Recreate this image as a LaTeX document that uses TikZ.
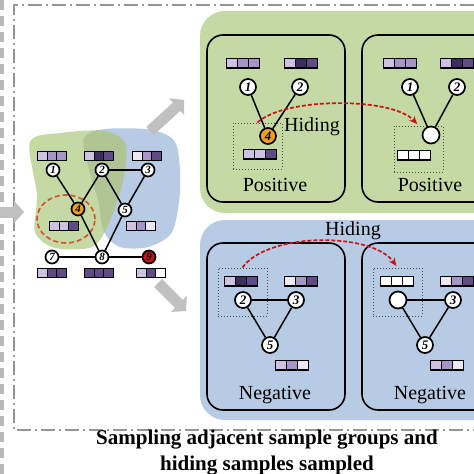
\documentclass[tikz,border=0pt]{standalone}
\usepackage{fontspec}
\setmainfont{Liberation Serif}
\usetikzlibrary{arrows.meta}
\definecolor{pgreen}{RGB}{197,217,165}
\definecolor{pblue}{RGB}{183,203,228}
\definecolor{poverlap}{RGB}{177,197,148}
\definecolor{fa}{RGB}{238,232,244}
\definecolor{fb}{RGB}{206,194,226}
\definecolor{fc}{RGB}{166,149,198}
\definecolor{fd}{RGB}{96,75,135}
\definecolor{fe}{RGB}{62,46,94}
\definecolor{hideorange}{RGB}{240,160,30}
\definecolor{hidered}{RGB}{192,22,22}
\definecolor{arrowred}{RGB}{200,20,20}
\definecolor{ringred}{RGB}{212,80,40}
\definecolor{framegray}{RGB}{150,150,150}
\definecolor{arrowgray}{RGB}{192,192,192}
% a feature bar of three squares: centre, square size, three fills
\newcommand\featbar[5]{%
  \begin{scope}[shift={(#1)}]
    \foreach \c [count=\i] in {#3,#4,#5}
      \draw[fill=\c,line width=1.1pt] ({(\i-2.5)*#2},{-0.45*#2}) rectangle ++(#2,{0.9*#2});
  \end{scope}}
\begin{document}
\begin{tikzpicture}[x=1pt,y=-1pt,
  gnode/.style={circle,draw,line width=1.7pt,fill=white,inner sep=0pt,minimum size=13pt,font=\fontsize{11}{11}\selectfont\bfseries\itshape},
  bignode/.style={gnode,minimum size=16pt,font=\fontsize{13}{13}\selectfont\bfseries\itshape},
  hidnode/.style={gnode,minimum size=17pt},
  link/.style={line width=1.5pt},
  card/.style={draw,line width=1.6pt,rounded corners=16pt},
  hidebox/.style={draw=black!70,dotted,line width=1pt,inner sep=0pt},
  hidearrow/.style={arrowred,dash pattern=on 4pt off 2pt,line width=1.7pt,shorten >=2pt,-{Stealth[length=8pt,width=7pt]}},
  bigarrow/.style={arrowgray,line width=11pt,-{Triangle[length=10pt,width=22pt]}},
  tagtext/.style={font=\fontsize{20}{20}\selectfont,inner sep=0pt}]
 \clip (0,0) rectangle (474,474);
 \fill[white] (0,0) rectangle (474,474);
 % frames
 \draw[gray!55,line width=4pt,dash pattern=on 10pt off 6pt] (2,0) -- (2,474);
 \draw[framegray,line width=1.3pt,dash pattern=on 14pt off 4pt on 2pt off 4pt] (474,5) -- (14,5) -- (14,430) -- (474,430);
 % panels
 \fill[pgreen,rounded corners=25pt] (200,11) rectangle (500,213);
 \fill[pblue,rounded corners=25pt] (200,220) rectangle (500,420);
 \draw[card] (207,35) rectangle (345,202);
 \draw[card] (362,35) rectangle (500,202);
 \draw[card] (207,243) rectangle (345,410);
 \draw[card] (362,243) rectangle (500,410);
 % sampled groups
 \fill[pgreen] plot[smooth cycle] coordinates {(30,142) (60,133) (105,131) (126,145) (122,185) (108,225) (92,247) (55,248) (35,232) (37,195)};
 \fill[pblue] plot[smooth cycle] coordinates {(84,138) (105,129) (152,130) (176,144) (180,190) (172,232) (148,247) (120,247) (104,232) (98,200) (88,165)};
 \begin{scope}
  \clip plot[smooth cycle] coordinates {(30,142) (60,133) (105,131) (126,145) (122,185) (108,225) (92,247) (55,248) (35,232) (37,195)};
  \fill[poverlap] plot[smooth cycle] coordinates {(84,138) (105,129) (152,130) (176,144) (180,190) (172,232) (148,247) (120,247) (104,232) (98,200) (88,165)};
 \end{scope}
 \draw[ringred,dash pattern=on 5pt off 3pt,line width=1.6pt] (66,219) ellipse [x radius=29pt,y radius=24pt];
 % big arrows
 \coordinate (ina) at (0,212);
 \coordinate (inb) at (24,212);
 \coordinate (upa) at (150,131);
 \coordinate (upb) at (184,100);
 \coordinate (dna) at (158,283);
 \coordinate (dnb) at (186,311);
 \draw[bigarrow] (ina) -- (inb);
 \draw[bigarrow] (upa) -- (upb);
 \draw[bigarrow] (dna) -- (dnb);
 % graph
 \node[gnode] (n1) at (53,170) {1};
 \node[gnode] (n2) at (102,170) {2};
 \node[gnode] (n3) at (148,170) {3};
 \node[gnode,fill=hideorange] (n4) at (78,209) {4};
 \node[gnode] (n5) at (125,210) {5};
 \node[gnode] (n7) at (52,257) {7};
 \node[gnode] (n8) at (102,257) {8};
 \node[gnode,fill=hidered] (n9) at (149,257) {9};
 \foreach \a/\b in {n1/n4,n4/n8,n2/n4,n2/n5,n3/n5,n5/n8,n2/n3,n7/n8,n8/n9}
  \draw[link] (\a) -- (\b);
 \featbar{52,156}{9.4}{fb}{fc}{fc}
 \featbar{99,156}{9.4}{fb}{fe}{fd}
 \featbar{147,156}{9.4}{fa}{fc}{fd}
 \featbar{64,226}{9.4}{fb}{fb}{fd}
 \featbar{141,226}{9.4}{fb}{fc}{fa}
 \featbar{52,273}{9.4}{fb}{fd}{fd}
 \featbar{99,273}{9.4}{fd}{fd}{fd}
 \featbar{151,273}{9.4}{fb}{fd}{white}
 % positive pair
 \node[hidebox,minimum width=49pt,minimum height=46pt] (hp) at (257.5,146) {};
 \node[hidebox,minimum width=49pt,minimum height=46pt] (hq) at (418.5,149) {};
 \node[bignode] (p1) at (248,87) {1};
 \node[bignode] (p2) at (300,87) {2};
 \node[bignode,fill=hideorange] (p4) at (268,136) {4};
 \node[bignode] (q1) at (410,87) {1};
 \node[bignode] (q2) at (457,87) {2};
 \node[hidnode] (q4) at (431,135) {};
 \foreach \a/\b in {p1/p4,p2/p4,q1/q4,q2/q4}
  \draw[link] (\a) -- (\b);
 \featbar{243,63}{11}{fb}{fc}{fc}
 \featbar{301,63}{11}{fb}{fe}{fd}
 \featbar{260,154}{11}{fb}{fb}{fd}
 \featbar{400,63}{11}{fb}{fc}{fc}
 \featbar{457,63}{11}{fb}{fe}{fd}
 \featbar{414,155}{11}{white}{white}{white}
 \draw[hidearrow] (hp.north) .. controls (285,97) and (392,97) .. (hq.north);
 \node[tagtext] (hidep) at (312,127) {Hiding};
 \node[tagtext] (posa) at (275,185) {Positive};
 \node[tagtext] (posb) at (430,185) {Positive};
 % negative pair
 \node[hidebox,minimum width=49pt,minimum height=48pt] (hm) at (242.5,292) {};
 \node[hidebox,minimum width=49pt,minimum height=48pt] (hr) at (397.5,292) {};
 \node[bignode] (m2) at (243,300) {2};
 \node[bignode] (m3) at (296,300) {3};
 \node[bignode] (m5) at (270,345) {5};
 \node[hidnode] (r2) at (398,300) {};
 \node[bignode] (r3) at (453,300) {3};
 \node[bignode] (r5) at (425,345) {5};
 \foreach \a/\b in {m2/m3,m2/m5,m3/m5,r2/r3,r2/r5,r3/r5}
  \draw[link] (\a) -- (\b);
 \featbar{241,281}{11}{fb}{fe}{fd}
 \featbar{301,281}{11}{fa}{fc}{fd}
 \featbar{292,365}{11}{fb}{fc}{fa}
 \featbar{397,281}{11}{white}{white}{white}
 \featbar{457,281}{11}{fa}{fc}{fd}
 \featbar{447,365}{11}{fb}{fc}{fa}
 \draw[hidearrow] (hm.north) .. controls (268,232) and (372,232) .. (hr.north);
 \node[tagtext] (hiden) at (353,231) {Hiding};
 \node[tagtext] (nega) at (275,395) {Negative};
 \node[tagtext] (negb) at (430,395) {Negative};
 % caption
 \node[font=\fontsize{21}{26}\selectfont\bfseries,align=center] (cap) at (267,453) {Sampling adjacent sample groups and\\hiding samples sampled};
\end{tikzpicture}
\end{document}
